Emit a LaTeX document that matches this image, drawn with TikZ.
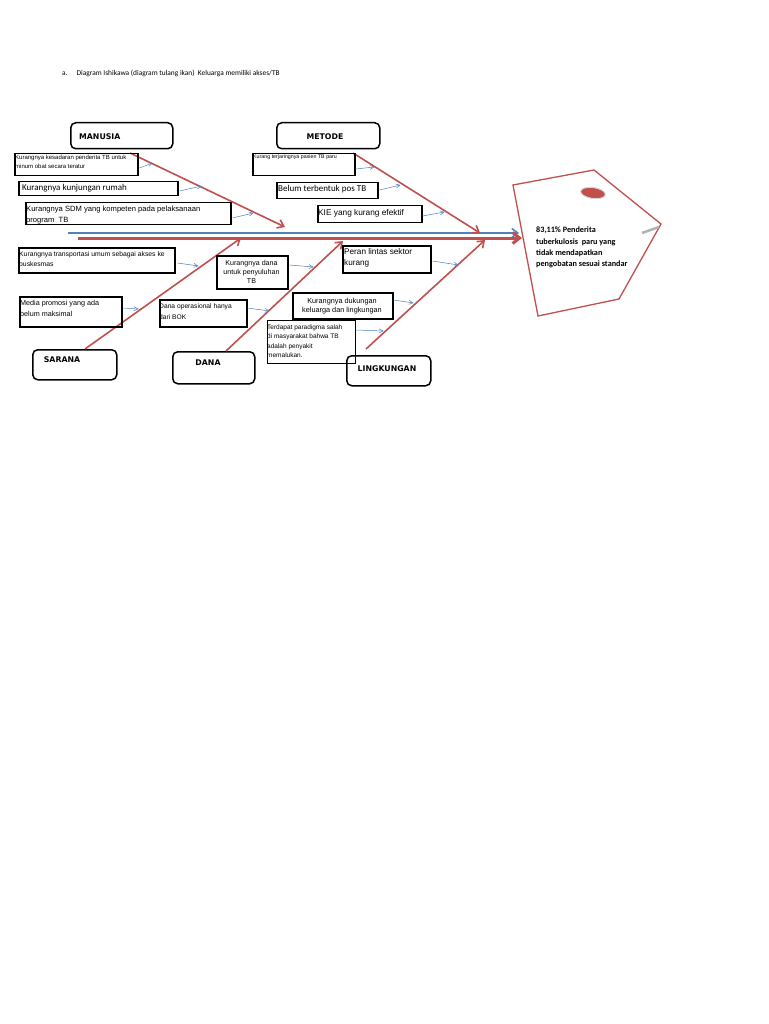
\documentclass[tikz,border=0pt]{standalone}
\usepackage{fontspec}
\setmainfont{Carlito}
\newfontfamily\arialf{Liberation Sans}
\newfontfamily\heavyf{DejaVu Sans}
\usetikzlibrary{arrows.meta,calc,shapes.geometric}
\definecolor{fbred}{RGB}{192,80,77}
\definecolor{fbblue}{RGB}{79,129,189}
\newcommand{\fsz}[2]{\fontsize{#1}{#2}\selectfont}
\newcommand{\Lt}[1]{\begin{tabular}[t]{@{}l@{}}#1\end{tabular}}
\newcommand{\Ct}[1]{\begin{tabular}[t]{@{}c@{}}#1\end{tabular}}
\begin{document}
\begin{tikzpicture}[x=1pt,y=-1pt,
  cat/.style={draw, line width=1.5pt, rounded corners=5pt, anchor=north west, inner sep=0pt},
  cbox/.style={draw, line width=1.5pt, anchor=north west, inner sep=0pt},
  txt/.style={anchor=base west, inner sep=0pt},
  ctxt/.style={anchor=base, inner sep=0pt},
  catlbl/.style={inner sep=0pt, font=\heavyf\bfseries\fsz{7.8}{9}},
  bone/.style={draw=fbred, line width=1.6pt, -{Straight Barb[length=6pt,width=9pt]}},
  barrow/.style={draw=fbblue, line width=0.5pt, -{Straight Barb[length=4pt,width=4pt]}}]
\useasboundingbox[fill=white] (0,0) rectangle (768,1024);

% header
\node[txt, font=\fsz{7.4}{8}] (hdr) at (62,75.5) {a.\hspace{9pt}Diagram Ishikawa (diagram tulang ikan)\ \ Keluarga memiliki akses/TB};

% category boxes
\node[cat, minimum width=102pt, minimum height=26pt] (manusia) at (70,122) {};
\node[catlbl, anchor=west] (manusiaT) at (79,137) {MANUSIA};
\node[cat, minimum width=103pt, minimum height=26pt] (metode) at (276,122) {};
\node[catlbl] (metodeT) at (325,137) {METODE};
\node[cat, minimum width=84pt, minimum height=30pt] (sarana) at (32,349) {};
\node[catlbl] (saranaT) at (62,360) {SARANA};
\node[cat, minimum width=82pt, minimum height=32pt] (dana) at (172,351) {};
\node[catlbl] (danaT) at (208,363) {DANA};
\node[cat, minimum width=84pt, minimum height=30pt] (lingk) at (346,355) {};
\node[catlbl] (lingkT) at (387,369) {LINGKUNGAN};

% spine
\coordinate (bL) at (68,233);
\coordinate (bR) at (519,233);
\coordinate (rL) at (78,238);
\coordinate (rR) at (522,238);
\draw[draw=fbblue, line width=1.5pt, -{Straight Barb[length=6pt,width=9pt]}] (bL) -- (bR);
\draw[draw=fbred, line width=3pt, -{Straight Barb[length=7pt,width=11pt]}] (rL) -- (rR);

% bones
\coordinate (m0) at (130,153); \coordinate (m1) at (285,227);
\coordinate (t0) at (353,153); \coordinate (t1) at (480,233);
\coordinate (s0) at (85,349);  \coordinate (s1) at (241,238);
\coordinate (d0) at (226,351); \coordinate (d1) at (343,241);
\coordinate (l0) at (366,349); \coordinate (l1) at (485,240);
\draw[bone] (m0) -- (m1);
\draw[bone] (t0) -- (t1);
\draw[bone] (s0) -- (s1);
\draw[bone] (d0) -- (d1);
\draw[bone] (l0) -- (l1);

% cause boxes - Manusia
\node[cbox, minimum width=123pt, minimum height=22pt] (c1) at (14,153) {};
\node[txt, font=\arialf\fsz{6}{8.3}] (c1T) at (15,160) {\Lt{Kurangnya kesadaran penderita TB untuk\\minum obat secara teratur}};
\node[cbox, minimum width=159pt, minimum height=14pt] (c2) at (18,181) {};
\node[anchor=west, inner sep=0pt, font=\fsz{9}{10}] (c2T) at (22,188) {Kurangnya kunjungan rumah};
\node[cbox, minimum width=205pt, minimum height=22pt] (c3) at (25,202) {};
\node[txt, font=\arialf\fsz{7.6}{10.8}] (c3T) at (26,212) {\Lt{Kurangnya SDM yang kompeten pada pelaksanaan\\program\ \ TB}};

% Metode
\node[cbox, minimum width=102pt, minimum height=22pt] (c4) at (252,153) {};
\node[txt, font=\arialf\fsz{5.3}{6}] (c4T) at (253,158.5) {Kurang terjaringnya pasien TB paru};
\node[cbox, minimum width=101pt, minimum height=16pt] (c5) at (276,182) {};
\node[anchor=west, inner sep=0pt, font=\fsz{9}{10}] (c5T) at (278,189) {Belum terbentuk pos TB};
\node[cbox, minimum width=104pt, minimum height=17pt] (c6) at (317,205) {};
\node[anchor=west, inner sep=0pt, font=\arialf\fsz{8.3}{9}] (c6T) at (318,213) {KIE yang kurang efektif};

% Sarana
\node[cbox, minimum width=156pt, minimum height=25pt] (c7) at (18,247) {};
\node[txt, font=\arialf\fsz{6.8}{10.3}] (c7T) at (19,256.3) {\Lt{Kurangnya transportasi umum sebagai akses ke\\puskesmas}};
\node[cbox, minimum width=102pt, minimum height=30pt] (c8) at (19,296) {};
\node[txt, font=\arialf\fsz{7.2}{11}] (c8T) at (20,305.5) {\Lt{Media promosi yang ada\\belum maksimal}};

% Dana
\node[cbox, minimum width=71pt, minimum height=33pt] (c9) at (216,255) {};
\node[ctxt, font=\arialf\fsz{7.1}{9}] (c9T) at (251.5,265.5) {\Ct{Kurangnya dana\\untuk penyuluhan\\TB}};
\node[cbox, minimum width=87pt, minimum height=27pt] (c10) at (159,299) {};
\node[txt, font=\arialf\fsz{6.7}{11}] (c10T) at (159,308.5) {\Lt{Dana operasional hanya\\dari BOK}};

% Lingkungan
\node[cbox, minimum width=88pt, minimum height=27pt] (c11) at (342,245) {};
\node[txt, font=\arialf\fsz{8.2}{11.5}] (c11T) at (344,254) {\Lt{Peran lintas sektor\\kurang}};
\node[cbox, minimum width=100pt, minimum height=26pt] (c12) at (292,292) {};
\node[ctxt, font=\arialf\fsz{7.3}{8.7}] (c12T) at (342,303.5) {\Ct{Kurangnya dukungan\\keluarga dan lingkungan}};
\node[draw, line width=0.7pt, anchor=north west, inner sep=0pt, minimum width=88pt, minimum height=43pt] (c13) at (267,320) {};
\node[txt, font=\arialf\fsz{6.5}{9.5}] (c13T) at (267,329) {\Lt{Terdapat paradigma salah\\di masyarakat bahwa TB\\adalah penyakit\\memalukan.}};

% small blue arrows
\draw[barrow] ($(c1.north east)+(1,15)$) -- ++(13,-5);
\draw[barrow] ($(c2.north east)+(1,10)$) -- ++(22,-5);
\draw[barrow] ($(c3.north east)+(1,16)$) -- ++(21,-5);
\draw[barrow] ($(c4.north east)+(0,16)$) -- ++(19,-2);
\draw[barrow] ($(c5.north east)+(1,8)$) -- ++(21,-5);
\draw[barrow] ($(c6.north east)+(0,11)$) -- ++(22,-4);
\draw[barrow] ($(c7.north east)+(2,16)$) -- ++(21,3);
\draw[barrow] ($(c8.north east)+(1,12)$) -- ++(15,1);
\draw[barrow] ($(c9.north east)+(1,10)$) -- ++(24,2);
\draw[barrow] ($(c10.north east)+(0,9)$) -- ++(22,3);
\draw[barrow] ($(c11.north east)+(1,16)$) -- ++(26,4);
\draw[barrow] ($(c12.north east)+(0,8)$) -- ++(20,3);
\draw[barrow] ($(c13.north east)+(0,10)$) -- ++(28,1);

% head
\coordinate (h1) at (513,185);
\coordinate (h2) at (594,170);
\coordinate (h3) at (661,224);
\coordinate (h4) at (619,299);
\coordinate (h5) at (538,316);
\draw[fbred, line width=1.3pt, line join=miter] (h1) -- (h2) -- (h3) -- (h4) -- (h5) -- cycle;
\node[ellipse, draw=black!15, line width=1pt, fill=fbred, minimum width=25pt, minimum height=11pt, inner sep=0pt, rotate=-8] (eye) at (593,193) {};
\draw[black!30, line width=2.5pt] (642,233) -- (659,227);
\node[txt, font=\bfseries\fsz{8.2}{11.3}] (headT) at (536,233) {\Lt{83,11\% Penderita\\tuberkulosis\ \ paru yang\\tidak mendapatkan\\pengobatan sesuai standar}};
\end{tikzpicture}
\end{document}
